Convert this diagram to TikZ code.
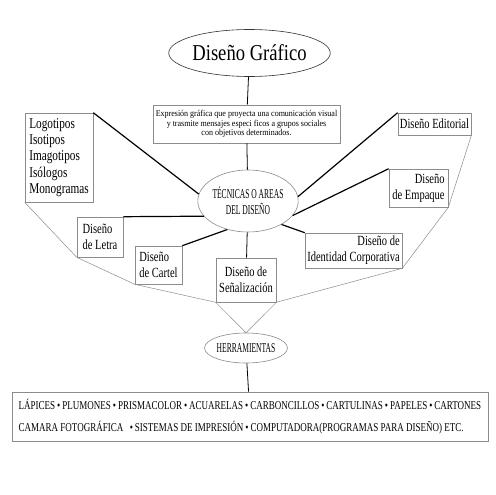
\documentclass[tikz,border=0pt]{standalone}
\usepackage{fontspec}
\setmainfont{Liberation Serif}
\newfontfamily\cfont[FakeStretch=0.75]{Liberation Serif}
\newfontfamily\nfont[FakeStretch=0.56]{Liberation Serif}
\newfontfamily\wfont[FakeStretch=0.9]{Liberation Serif}
\newfontfamily\gfont[FakeStretch=0.82]{Liberation Serif}
\usetikzlibrary{positioning, shapes.geometric}
\newcommand\sepdot{\,•\,}

\begin{document}
\begin{tikzpicture}[
  x=1pt, y=-1pt,
  box/.style={draw=black!45, line width=0.6pt, fill=white, inner sep=2pt,
    font=\cfont\fontsize{14}{16}\selectfont},
  hub/.style={ellipse, draw=black!45, line width=0.6pt, fill=white, inner sep=0pt,
    font=\nfont\fontsize{13.5}{16.5}\selectfont, align=center},
  link/.style={line width=1.2pt},
  stem/.style={line width=0.8pt},
  funnel/.style={draw=black!45, line width=0.5pt}
]
  \useasboundingbox[fill=white] (0,0) rectangle (495,495);

  \node[hub, draw=black!80, minimum width=134, minimum height=47,
    font=\gfont\fontsize{22.7}{24}\selectfont] (title) at (249.5,53) {Diseño Gráfico};
  \node[box, minimum width=187, minimum height=38, align=center,
    font=\wfont\fontsize{8.9}{9.4}\selectfont] (desc) at (246.5,124)
    {Expresión gráfica que proyecta una comunicación visual\\
     y trasmite mensajes especi ficos a grupos sociales\\
     con objetivos determinados.};
  \node[hub, minimum width=96, minimum height=62] (tec) at (248,201)
    {TÉCNICAS O AREAS\\DEL DISEÑO};

  \node[box, minimum width=68, minimum height=89, align=left,
    font=\cfont\fontsize{15}{16.3}\selectfont] (logos) at (59,157.5)
    {Logotipos\\Isotipos\\Imagotipos\\Isólogos\\Monogramas};
  \node[box, minimum width=46, minimum height=40, align=left] (letra) at (100,237)
    {Diseño\\de Letra};
  \node[box, minimum width=47, minimum height=38, align=left] (cartel) at (158.5,265)
    {Diseño\\de Cartel};
  \node[box, minimum width=60, minimum height=44, align=center] (senal) at (246,280)
    {Diseño de\\Señalización};
  \node[box, minimum width=97, minimum height=35, align=right] (ident) at (353.5,250.5)
    {Diseño de\\Identidad Corporativa};
  \node[box, minimum width=59, minimum height=38, align=right] (empaque) at (418.5,188)
    {Diseño\\de Empaque};
  \node[box, minimum width=71, minimum height=22] (editorial) at (434.5,124)
    {Diseño Editorial};

  \node[hub, minimum width=74, minimum height=30] (herr) at (246,348) {HERRAMIENTAS};
  \node[box, minimum width=476, minimum height=49, align=left,
    font=\cfont\fontsize{12}{22}\selectfont] (tools) at (250,416.5)
    {LÁPICES\sepdot PLUMONES\sepdot PRISMACOLOR\sepdot ACUARELAS\sepdot CARBONCILLOS\sepdot CARTULINAS\sepdot PAPELES\sepdot CARTONES\\
     CAMARA FOTOGRÁFICA \ \sepdot SISTEMAS DE IMPRESIÓN\sepdot COMPUTADORA(PROGRAMAS PARA DISEÑO) ETC.};

  \draw[stem] (title) -- (desc);
  \draw[stem] (desc) -- (tec);
  \draw[stem] (tec) -- (senal);
  \draw[stem] (herr) -- (tools);

  \draw[link] (tec.172) -- (logos.north east);
  \draw[link] (tec.199) -- (letra.north east);
  \draw[link] (tec.234) -- (cartel.north east);
  \draw[link] (tec.325) -- (ident.north west);
  \draw[link] (tec.342) -- (empaque.north west);
  \draw[link] (tec.5) -- (editorial.north west);

  \draw[funnel] (logos.south west) -- (letra.south west) -- (cartel.south west)
    -- (senal.south west) -- (herr.north) -- (senal.south east)
    -- (ident.south east) -- (empaque.south east) -- (editorial.south east);
\end{tikzpicture}
\end{document}
